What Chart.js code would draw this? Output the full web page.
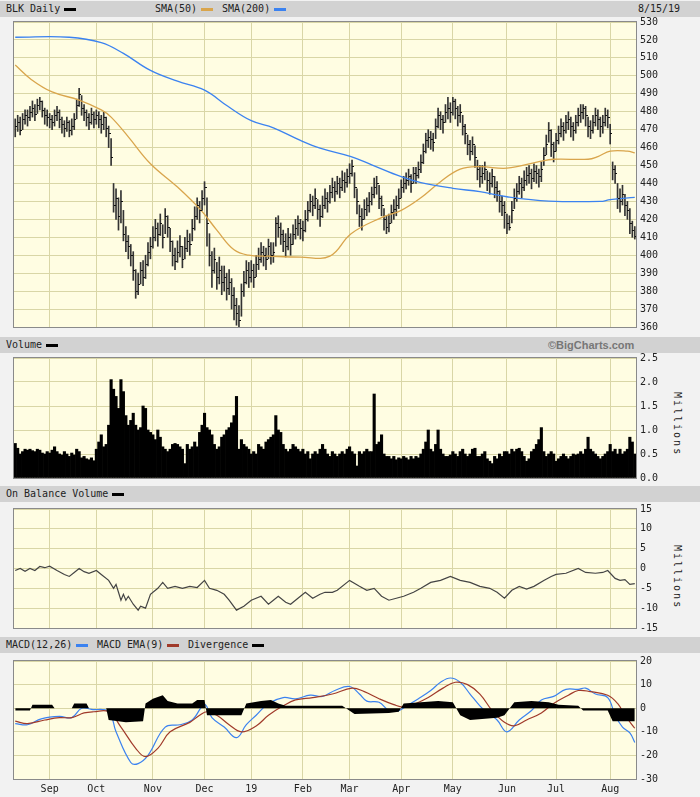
<!DOCTYPE html>
<html><head><meta charset="utf-8">
<script src="https://cdn.jsdelivr.net/npm/chart.js@4"></script>
<style>
body{margin:0;width:700px;height:797px;background:#f2f2f2;position:relative;overflow:hidden;font-family:"DejaVu Sans Mono",monospace;font-size:10px;color:#222}
.hdr{position:absolute;left:0;width:700px;height:16px;background:#d2d2d2;line-height:16px}
.hdr span{position:absolute;white-space:nowrap}
.sw{display:inline-block;width:12px;height:3px;vertical-align:middle;margin-left:4px}
canvas{position:absolute;left:0}
.mil{position:absolute;left:683px;transform:rotate(90deg);transform-origin:left top;white-space:nowrap;font-size:10px;letter-spacing:2px}
</style></head><body>
<div class="hdr" style="top:1px"><span style="left:6px">BLK Daily<i class="sw" style="background:#000"></i></span><span style="left:155px">SMA(50)<i class="sw" style="background:#d9a54c"></i></span><span style="left:222px">SMA(200)<i class="sw" style="background:#3b82f0"></i></span><span style="left:638px">8/15/19</span></div>
<div class="hdr" style="top:337px"><span style="left:6px">Volume<i class="sw" style="background:#000"></i></span><span style="left:548px;font-family:'Liberation Sans',sans-serif;font-weight:bold;font-size:11px;color:#777">©BigCharts.com</span></div>
<div class="hdr" style="top:486px"><span style="left:6px">On Balance Volume<i class="sw" style="background:#000"></i></span></div>
<div class="hdr" style="top:637px"><span style="left:6px">MACD(12,26)<i class="sw" style="background:#3b82f0"></i></span><span style="left:97px">MACD EMA(9)<i class="sw" style="background:#a03a2a"></i></span><span style="left:188px">Divergence<i class="sw" style="background:#000"></i></span></div>
<div class="mil" style="top:392px">Millions</div>
<div class="mil" style="top:545px">Millions</div>
<canvas id="c1" width="700" height="319" style="top:14px"></canvas>
<canvas id="c2" width="700" height="132" style="top:352px"></canvas>
<canvas id="c3" width="700" height="131" style="top:503px"></canvas>
<canvas id="c4" width="700" height="142" style="top:655px"></canvas>
<script>
const monthTickDays=[14,33,56,77,96,117,136,157,178,200,220,242];
const monthTickLabels=['Sep','Oct','Nov','Dec','19','Feb','Mar','Apr','May','Jun','Jul','Aug'];
const closes=[472,474,470,476,478,477,480,482,479,484,486,481,478,477,
476,474,478,480,476,473,471,474,470,472,476,484,490,482,480,477,474,479,476,
478,476,473,477,471,468,455,428,432,422,430,412,408,405,400,392,380,384,392,388,395,402,405,
410,415,412,418,410,422,416,408,400,397,402,405,398,404,408,406,415,422,428,425,432,
438,418,400,392,398,388,392,385,388,382,385,378,372,368,364,380,385,392,388,
392,388,395,398,402,400,398,405,400,402,418,416,412,408,405,410,406,412,415,418,415,
414,420,425,430,428,432,426,422,428,432,430,435,438,436,440,438,442,441,444,
446,450,438,430,422,420,426,428,430,434,438,440,432,428,420,416,418,424,426,428,432,
438,440,442,444,440,446,445,448,452,458,464,466,465,463,472,478,476,474,480,482,480,
486,482,478,480,472,468,462,458,462,455,448,444,446,448,442,440,444,438,436,430,428,424,
418,416,425,432,436,440,438,442,445,446,443,447,446,444,448,456,462,470,462,458,
464,468,472,470,474,476,472,470,474,478,480,482,478,472,470,474,478,476,472,474,478,477,
468,448,446,432,430,434,428,425,418,414,411];
const highs=[476,478,477,479,481,481,483,486,484,487,488,486,482,481,
479,478,481,483,481,477,475,477,475,476,479,487,493,489,484,481,479,482,480,
481,480,478,480,477,472,465,440,437,432,436,425,416,411,406,402,392,390,396,397,400,407,410,
416,420,418,423,417,426,422,415,408,404,408,411,405,410,414,412,420,427,432,430,436,
441,432,412,402,404,396,399,394,394,390,392,387,382,376,372,384,391,397,396,
397,395,400,404,407,405,404,409,407,407,421,422,418,414,412,415,412,417,420,422,420,
419,425,430,434,433,437,431,428,433,437,435,439,443,441,444,443,447,446,448,
451,453,446,437,428,426,431,432,435,438,443,444,439,433,426,422,423,428,431,433,437,
442,444,446,448,445,449,449,452,456,462,468,470,469,468,476,482,480,478,484,488,485,
488,487,483,484,478,473,467,464,466,461,453,450,450,452,447,446,448,444,441,436,433,430,
423,422,430,437,440,444,443,447,449,450,448,451,450,448,452,460,467,474,470,463,
468,472,476,474,478,480,477,474,478,482,484,484,483,477,475,478,482,481,477,478,482,481,
473,452,450,440,437,439,434,430,426,419,416];
const lows=[466,469,467,470,473,472,475,477,475,479,481,477,473,472,
471,470,472,475,471,468,466,469,466,467,470,476,483,478,475,472,470,473,471,
473,471,468,470,466,460,450,424,420,414,418,408,402,398,394,386,376,378,384,383,387,394,398,
404,408,405,411,404,412,410,402,394,392,396,399,393,398,402,400,408,414,420,418,425,
428,405,394,382,390,381,384,378,380,375,378,370,364,361,360,366,377,384,382,
385,382,388,392,396,394,392,398,395,396,405,410,406,402,399,403,400,406,409,411,409,
408,413,419,424,422,426,420,416,421,426,424,429,432,430,434,432,436,435,438,
440,444,432,423,416,414,420,422,424,428,432,434,426,422,414,412,413,418,420,422,426,
432,435,437,439,435,440,440,443,446,451,457,460,459,458,465,471,470,468,474,476,474,
478,476,472,474,467,462,456,453,456,449,442,438,440,442,436,434,438,432,430,424,422,415,
412,414,418,426,430,434,432,436,439,440,437,441,440,438,441,450,456,463,455,452,
458,462,466,464,468,470,466,464,468,472,474,476,472,466,465,468,472,470,466,468,472,471,
462,442,440,426,424,428,422,420,412,410,409];
const sma50Days=[0,6.5,15,26,35,39,46,55,66,75.6,82,89,95,103,116,128,136.6,149,157,165,173,181,189,200,212.6,219,233,237,242,249,252];
const sma50Vals=[506,498,491,486.5,481,477,466,451,438,425,414,403,400,399.5,399,399.5,412,421,425,432,441,448,449.4,448.5,452,453.5,453.5,455,458,458,457];
const sma200Days=[0,22,35,44,55,66,77,86.5,96,105,116,124,136.6,145,157,165,178,189,200,217,238,242,252];
const sma200Vals=[521.5,521.5,518.5,512.5,503,497,492,483,475,471,464,459.7,455,450.4,443.8,440.5,437.3,435.4,432.6,430.2,430,431,432.2];
const volume=[0.72,0.62,0.5,0.55,0.6,0.58,0.6,0.57,0.55,0.6,0.58,0.52,0.5,0.55,
0.52,0.58,0.65,0.55,0.5,0.48,0.55,0.5,0.45,0.52,0.48,0.6,0.55,0.42,0.45,0.4,0.38,0.42,0.36,
0.6,0.75,0.9,0.65,0.7,1.1,2.05,1.85,1.7,1.45,2.05,1.8,1.3,1.1,1.2,1.35,1.1,1.0,1.05,1.5,1.45,1.0,0.95,
0.9,0.8,1.0,0.85,0.65,0.6,0.55,0.6,0.7,0.72,0.7,0.65,0.6,0.3,0.7,0.6,0.65,0.75,0.65,0.95,1.1,
1.35,1.05,1.0,0.9,0.7,0.6,0.65,0.85,0.9,1.0,1.05,1.15,1.3,1.7,0.6,0.8,0.7,0.65,0.6,
0.5,0.55,0.5,0.7,0.65,0.6,0.75,0.8,0.85,0.9,1.3,1.0,0.95,0.7,0.6,0.55,0.6,0.7,0.65,0.6,0.55,
0.6,0.5,0.55,0.4,0.5,0.55,0.5,0.6,0.7,0.6,0.5,0.45,0.55,0.5,0.45,0.5,0.55,0.5,0.6,
0.65,0.55,0.5,0.25,0.55,0.5,0.55,0.6,0.55,0.55,1.75,0.7,0.75,0.9,0.5,0.45,0.45,0.4,0.45,0.38,0.42,
0.4,0.45,0.42,0.38,0.45,0.4,0.45,0.42,0.5,0.6,0.75,1.0,0.6,0.55,0.7,1.0,0.6,0.5,0.45,0.45,0.48,
0.55,0.5,0.45,0.55,0.6,0.5,0.45,0.5,0.6,0.62,0.45,0.45,0.5,0.55,0.4,0.35,0.3,0.45,0.4,0.5,0.45,0.55,
0.55,0.5,0.6,0.55,0.6,0.62,0.55,0.45,0.35,0.4,0.55,0.6,0.7,0.8,1.05,0.55,0.45,0.5,0.55,0.5,
0.35,0.4,0.45,0.5,0.45,0.4,0.45,0.5,0.48,0.5,0.55,0.5,0.6,0.85,0.6,0.55,0.5,0.45,0.4,0.45,0.5,0.55,
0.7,0.55,0.6,0.5,0.6,0.5,0.55,0.6,0.85,0.75,0.5];
const obvDays=[0,2,4,6,8,10,12,14,17,20,22,24,26,28,30,33,35,38,40,41,42,43,44,45,46,48,50,51,53,55,58,60,62,65,68,71,74,77,79,82,85,87,90,93,96,100,103,105,107,110,112,115,118,121,124,126,129,131,136,140,143,146,149,152,155,158,162,165,169,173,177,181,185,189,193,196,199,202,205,208,211,215,218,220,224,229,232,236,239,241,244,246,248,250,252];
const obvVals=[-0.5,0,-0.7,0,-0.5,0.5,0.2,0.6,-0.5,-1.5,-2,-1,0,-0.8,-1.2,-0.5,-1.5,-3,-5,-4,-6,-8,-6.5,-8,-7,-9,-10.5,-9.5,-10,-6.5,-5,-3.5,-5,-4.5,-5,-4.5,-4.8,-3,-5,-5.5,-6.5,-8,-10.5,-9.5,-8,-7,-9,-8,-7,-8.5,-9,-7.5,-6,-7.5,-6.5,-6,-6,-5.5,-3,-4.5,-5.5,-5,-7,-8,-7.5,-7,-6,-5,-3.5,-3,-2,-3,-3.5,-4.5,-5,-6,-7.5,-5.5,-4.5,-5.2,-4.5,-3,-2,-1.5,-1.2,0,-1,-1.2,-1,-0.5,-2.5,-3,-2.8,-4,-3.8];
const macdDays=[0,5,10.6,18,23,27,31,38,41,47,50,54,61,67,72,77,80,85,90,94,98,103,109,114,120,125,130,136,140,143,148,152,156,160,164,169,173,177,181,185,189,192,196,200,205,210,214,219,224,229,232,236,241,244,247,250,252];
const macdVals=[-6.5,-7,-4.5,-3.5,-4,0,-0.5,-1.5,-10,-23,-23.5,-20,-8,-7,-5,1.5,-4,-8,-12.5,-7,-3,2,4.5,4,5.5,5,7.5,9.2,6,3,2.5,-1,-1,1.5,4,7.5,11,12.8,11,6,1,-2,-5,-10,-5,-1,3.5,5,8,8,8.5,6,4.5,-3,-8,-10.5,-14.5];
const emaDays=[0,5,12,18,23,28,32,38,43,49,53,58,63,71,75,78,82,87,92,98,103,109,114,121,129,137,142,148,154,158,163,168,174,179,184,189,194,199,203,208,214,219,225,229,234,241,245,248,252];
const emaVals=[-5.5,-6.5,-5,-4,-4,-2,-1.5,-1.5,-8,-17,-20.5,-17,-10,-6,-3,-1.5,-3,-7,-10,-7.5,-3,1,3.5,4.5,6,8.5,7,4,1.5,0.5,2,4.5,8.5,11,10,6,-1,-6,-7.5,-5,-2,2,5.5,7.5,7,5.5,2,-3,-8.5];
const divDays=[0,6,7,15,16,23,24,29,30,37,38,45,52,53,56,60,62,66,72,74,77,78,92,94,100,104,107,110,133,138,152,156,158,165,172,178,181,185,196,199,203,210,217,221,229,231,241,243,252];
const divVals=[-1,-1,1.5,1.5,0,0,2,2,0,0,-5,-6,-5.5,2,4,5.5,3,2,2,3.5,3.5,-3,-3,2,3,3.5,2,1,1,-2.5,-2,-1.5,2,2.5,3,2.5,-3,-5,-4,-3,2.5,3,2.5,1.5,1,-1,-1,-5.5,-5.5];

const FONT={family:'DejaVu Sans Mono',size:10};
const GRID='#d9d6a6';
const zip=(a,b)=>a.map((x,i)=>({x:x,y:b[i]}));
const bgPlugin={id:'bg',beforeDraw(c){const a=c.chartArea,g=c.ctx;g.save();g.fillStyle='#fffde2';g.fillRect(a.left,a.top,a.right-a.left,a.bottom-a.top);g.restore();},
 afterDraw(c){const a=c.chartArea,g=c.ctx;g.save();g.strokeStyle='#8a8a8a';g.lineWidth=1;g.strokeRect(a.left-0.5,a.top-0.5,a.right-a.left+1,a.bottom-a.top+1);g.restore();}};
function xAxis(show){return {type:'linear',min:-0.5,max:252.5,offset:false,
  afterBuildTicks(s){s.ticks=monthTickDays.map(v=>({value:v}));},
  grid:{color:GRID,drawTicks:false,offset:false},border:{display:false},
  ticks:{display:show,autoSkip:false,maxRotation:0,font:FONT,color:'#222',padding:4,callback:(v)=>{const i=monthTickDays.indexOf(v);return i<0?'':monthTickLabels[i];}},
  afterFit(s){s.height=show?18:0;s.paddingLeft=0;s.paddingRight=0;}};}
function yAxis(min,max,step,fmt){return {position:'right',min:min,max:max,
  afterBuildTicks(s){const t=[];for(let v=min;v<=max+1e-9;v+=step)t.push({value:+v.toFixed(2)});s.ticks=t;},
  grid:{color:GRID,drawTicks:false},border:{display:false},
  ticks:{font:FONT,color:'#222',padding:4,callback:fmt||(v=>v)},
  afterFit(s){s.width=64;s.paddingTop=0;s.paddingBottom=0;}};}
function opts(x,y,padTop,padBottom){return {responsive:false,animation:false,events:[],
  layout:{padding:{left:14,top:padTop,bottom:padBottom,right:0}},
  plugins:{legend:{display:false},tooltip:{enabled:false}},scales:{x:x,y:y}};}

const closeTick={id:'ct',afterDatasetsDraw(c){const xs=c.scales.x,ys=c.scales.y,g=c.ctx;g.save();g.strokeStyle='#111';g.lineWidth=1;
 closes.forEach((v,i)=>{const x=Math.round(xs.getPixelForValue(i));const y=Math.round(ys.getPixelForValue(v))+0.5;g.beginPath();g.moveTo(x,y);g.lineTo(x+2,y);g.stroke();});g.restore();}};

new Chart(document.getElementById('c1'),{type:'bar',
 data:{datasets:[
  {type:'line',data:zip(sma200Days,sma200Vals),borderColor:'#3b82f0',borderWidth:1.3,pointRadius:0,tension:0.4},
  {type:'line',data:zip(sma50Days,sma50Vals),borderColor:'#d9a54c',borderWidth:1.3,pointRadius:0,tension:0.4},
  {type:'bar',data:closes.map((c,i)=>({x:i,y:[lows[i],highs[i]]})),backgroundColor:'#333',barThickness:1}
 ]},
 options:opts(xAxis(false),yAxis(360,530,10),8,6),
 plugins:[bgPlugin,closeTick]});

new Chart(document.getElementById('c2'),{type:'bar',
 data:{datasets:[{data:volume.map((v,i)=>({x:i,y:v})),backgroundColor:'#000',barPercentage:1,categoryPercentage:1,borderWidth:0}]},
 options:opts(xAxis(false),yAxis(0,2.5,0.5,v=>v.toFixed(1)),6,6),plugins:[bgPlugin]});

new Chart(document.getElementById('c3'),{type:'line',
 data:{datasets:[{data:zip(obvDays,obvVals),borderColor:'#444',borderWidth:1.2,pointRadius:0}]},
 options:opts(xAxis(false),yAxis(-15,15,5),6,6),plugins:[bgPlugin]});

new Chart(document.getElementById('c4'),{type:'line',
 data:{datasets:[
  {data:zip(divDays,divVals),borderColor:'#000',borderWidth:0,backgroundColor:'#000',fill:'origin',pointRadius:0},
  {data:zip(emaDays,emaVals),borderColor:'#a03a2a',borderWidth:1.2,pointRadius:0,tension:0.4},
  {data:zip(macdDays,macdVals),borderColor:'#3b82f0',borderWidth:1.2,pointRadius:0,tension:0.4}
 ]},
 options:opts(xAxis(true),yAxis(-30,20,10),6,0),plugins:[bgPlugin]});
</script></body></html>
